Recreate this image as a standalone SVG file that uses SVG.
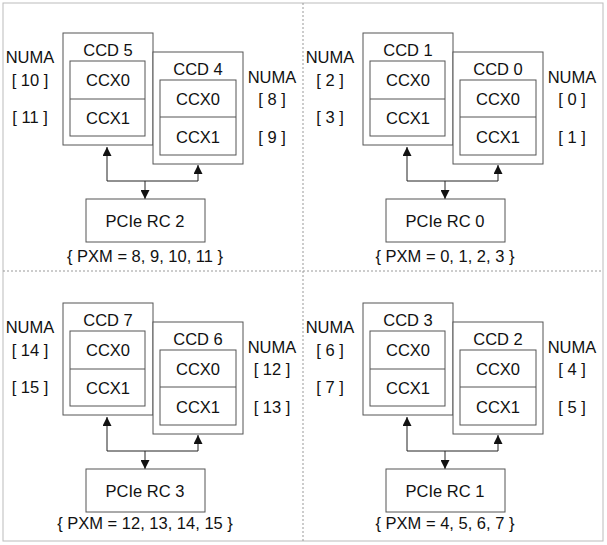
<svg xmlns="http://www.w3.org/2000/svg" width="607" height="545" viewBox="0 0 607 545">
<defs>
<style>
text{font-family:"Liberation Sans",Arial,sans-serif;font-size:16.5px;fill:#111;text-anchor:middle}
.b{fill:#fff;stroke:#555;stroke-width:1}
.c{fill:none;stroke:#222;stroke-width:1}
</style>
<marker id="a" viewBox="0 0 10 10" refX="10" refY="5" markerWidth="9" markerHeight="9" markerUnits="userSpaceOnUse" orient="auto"><path d="M0,0L10,5L0,10z" fill="#111"/></marker>
</defs>
<rect x="3" y="3" width="600" height="538" fill="#fff" stroke="#bbb"/>
<line x1="303" y1="3" x2="303" y2="541" stroke="#999" stroke-dasharray="2,2"/>
<line x1="3" y1="271" x2="603" y2="271" stroke="#999" stroke-dasharray="2,2"/>
<g id="connectors">
<g id="c0">
<path class="c" d="M107,181V147" marker-end="url(#a)"/><path class="c" d="M107,181H198V165" marker-end="url(#a)"/><path class="c" d="M145,181V199" marker-end="url(#a)"/>
</g>
<use href="#c0" x="300"/><use href="#c0" y="270"/><use href="#c0" x="300" y="270"/>
</g>
<g id="q2">
<rect class="b" x="63" y="33" width="90" height="112"/><rect class="b" x="70" y="61" width="75" height="75"/><line class="b" x1="70" y1="99" x2="145" y2="99"/>
<rect class="b" x="153" y="52" width="90" height="112"/><rect class="b" x="160" y="80" width="76" height="75"/><line class="b" x1="160" y1="117" x2="236" y2="117"/>
<text x="108" y="56">CCD 5</text><text x="198" y="75">CCD 4</text>
<text x="108" y="86">CCX0</text><text x="108" y="124">CCX1</text><text x="198" y="105">CCX0</text><text x="198" y="143">CCX1</text>
<rect class="b" x="86" y="199" width="119" height="43"/><text x="145" y="227">PCIe RC 2</text>
<text x="145" y="262">{ PXM = 8, 9, 10, 11 }</text>
<text x="30" y="63">NUMA</text><text x="30" y="86">[ 10 ]</text><text x="30" y="123">[ 11 ]</text>
<text x="272" y="83">NUMA</text><text x="272" y="105">[ 8 ]</text><text x="272" y="143">[ 9 ]</text>
</g>
<g id="q0" transform="translate(300,0)">
<rect class="b" x="63" y="33" width="90" height="112"/><rect class="b" x="70" y="61" width="75" height="75"/><line class="b" x1="70" y1="99" x2="145" y2="99"/>
<rect class="b" x="153" y="52" width="90" height="112"/><rect class="b" x="160" y="80" width="76" height="75"/><line class="b" x1="160" y1="117" x2="236" y2="117"/>
<text x="108" y="56">CCD 1</text><text x="198" y="75">CCD 0</text>
<text x="108" y="86">CCX0</text><text x="108" y="124">CCX1</text><text x="198" y="105">CCX0</text><text x="198" y="143">CCX1</text>
<rect class="b" x="86" y="199" width="119" height="43"/><text x="145" y="227">PCIe RC 0</text>
<text x="145" y="262">{ PXM = 0, 1, 2, 3 }</text>
<text x="30" y="63">NUMA</text><text x="30" y="86">[ 2 ]</text><text x="30" y="123">[ 3 ]</text>
<text x="272" y="83">NUMA</text><text x="272" y="105">[ 0 ]</text><text x="272" y="143">[ 1 ]</text>
</g>
<g id="q3" transform="translate(0,270)">
<rect class="b" x="63" y="33" width="90" height="112"/><rect class="b" x="70" y="61" width="75" height="75"/><line class="b" x1="70" y1="99" x2="145" y2="99"/>
<rect class="b" x="153" y="52" width="90" height="112"/><rect class="b" x="160" y="80" width="76" height="75"/><line class="b" x1="160" y1="117" x2="236" y2="117"/>
<text x="108" y="56">CCD 7</text><text x="198" y="75">CCD 6</text>
<text x="108" y="86">CCX0</text><text x="108" y="124">CCX1</text><text x="198" y="105">CCX0</text><text x="198" y="143">CCX1</text>
<rect class="b" x="86" y="199" width="119" height="43"/><text x="145" y="227">PCIe RC 3</text>
<text x="145" y="259">{ PXM = 12, 13, 14, 15 }</text>
<text x="30" y="63">NUMA</text><text x="30" y="86">[ 14 ]</text><text x="30" y="123">[ 15 ]</text>
<text x="272" y="83">NUMA</text><text x="272" y="105">[ 12 ]</text><text x="272" y="143">[ 13 ]</text>
</g>
<g id="q1" transform="translate(300,270)">
<rect class="b" x="63" y="33" width="90" height="112"/><rect class="b" x="70" y="61" width="75" height="75"/><line class="b" x1="70" y1="99" x2="145" y2="99"/>
<rect class="b" x="153" y="52" width="90" height="112"/><rect class="b" x="160" y="80" width="76" height="75"/><line class="b" x1="160" y1="117" x2="236" y2="117"/>
<text x="108" y="56">CCD 3</text><text x="198" y="75">CCD 2</text>
<text x="108" y="86">CCX0</text><text x="108" y="124">CCX1</text><text x="198" y="105">CCX0</text><text x="198" y="143">CCX1</text>
<rect class="b" x="86" y="199" width="119" height="43"/><text x="145" y="227">PCIe RC 1</text>
<text x="145" y="259">{ PXM = 4, 5, 6, 7 }</text>
<text x="30" y="63">NUMA</text><text x="30" y="86">[ 6 ]</text><text x="30" y="123">[ 7 ]</text>
<text x="272" y="83">NUMA</text><text x="272" y="105">[ 4 ]</text><text x="272" y="143">[ 5 ]</text>
</g>
</svg>
